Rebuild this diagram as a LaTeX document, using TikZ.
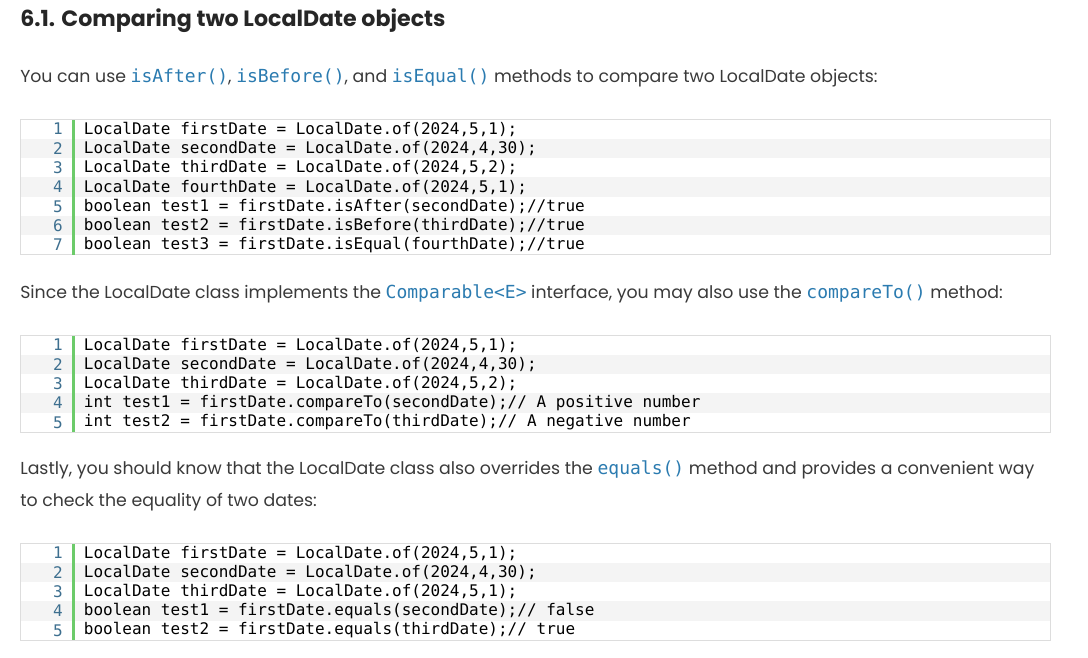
\documentclass[tikz,border=0pt]{standalone}
\usepackage{fontspec}
\setmainfont{Poppins}
\setmonofont{DejaVu Sans Mono}
\definecolor{inlinecode}{HTML}{2B7BB0}
\definecolor{lineno}{HTML}{3D6F8F}
\definecolor{gutter}{HTML}{6CCB6A}
\definecolor{rowshade}{HTML}{F4F4F4}
\definecolor{boxline}{HTML}{DDDDDD}
\definecolor{bodytext}{HTML}{3A3A3A}
\newcommand{\ic}[1]{{\ttfamily\fontsize{13.5pt}{14pt}\selectfont\color{inlinecode}#1}}
\tikzset{
  para/.style={anchor=base west, inner sep=0pt, text=bodytext, font=\fontsize{13pt}{15pt}\selectfont},
  codeline/.style={anchor=west, inner sep=0pt, font=\ttfamily\fontsize{12pt}{13pt}\selectfont},
  numline/.style={anchor=east, inner sep=0pt, text=lineno, font=\ttfamily\fontsize{12pt}{13pt}\selectfont}
}
% one code block: #1 top, #2 number of rows, #3 list of lines
\newcommand{\codebox}[3]{%
  \pgfmathsetmacro{\cbot}{#1+19.3*#2}
  \foreach \r in {2,4,...,#2}{\fill[rowshade] (21,{#1+19.3*(\r-1)}) rectangle (1050,{#1+19.3*\r});}
  \draw[boxline] (20,#1) rectangle (1050,\cbot);
  \fill[gutter] (72,#1) rectangle (75,\cbot);
  \foreach \txt [count=\r] in {#3}{
    \node[numline] (n\r) at (63,{#1+19.3*(\r-0.5)}) {\r};
    \node[codeline, right=15.5pt of n\r.east, anchor=west] (c\r) {\txt};
  }}
\usetikzlibrary{positioning}
\begin{document}
\begin{tikzpicture}[x=0.75pt, y=-0.75pt]
  \useasboundingbox (0,0) rectangle (1088,657);
  \fill[white] (0,0) rectangle (1088,657);

  % heading
  \node[anchor=base west, inner sep=0pt, text=black!85, font=\fontsize{16.6pt}{20pt}\selectfont\bfseries] (title) at (20,26) {6.1. Comparing two LocalDate objects};

  % first paragraph and block
  \node[para] (p1) at (20,82) {You can use \ic{isAfter()}, \ic{isBefore()}, and \ic{isEqual()} methods to compare two LocalDate objects:};
  \codebox{119.5}{7}{{LocalDate firstDate = LocalDate.of(2024,5,1);},
    {LocalDate secondDate = LocalDate.of(2024,4,30);},
    {LocalDate thirdDate = LocalDate.of(2024,5,2);},
    {LocalDate fourthDate = LocalDate.of(2024,5,1);},
    {boolean test1 = firstDate.isAfter(secondDate);//true},
    {boolean test2 = firstDate.isBefore(thirdDate);//true},
    {boolean test3 = firstDate.isEqual(fourthDate);//true}}

  % second paragraph and block
  \node[para] (p2) at (20,298) {Since the LocalDate class implements the \ic{Comparable<E>} interface, you may also use the \ic{compareTo()} method:};
  \codebox{335.5}{5}{{LocalDate firstDate = LocalDate.of(2024,5,1);},
    {LocalDate secondDate = LocalDate.of(2024,4,30);},
    {LocalDate thirdDate = LocalDate.of(2024,5,2);},
    {int test1 = firstDate.compareTo(secondDate);// A positive number},
    {int test2 = firstDate.compareTo(thirdDate);// A negative number}}

  % third paragraph and block
  \node[para] (p3) at (20,474) {Lastly, you should know that the LocalDate class also overrides the \ic{equals()} method and provides a convenient way};
  \node[para] (p4) at (20,506) {to check the equality of two dates:};
  \codebox{543.5}{5}{{LocalDate firstDate = LocalDate.of(2024,5,1);},
    {LocalDate secondDate = LocalDate.of(2024,4,30);},
    {LocalDate thirdDate = LocalDate.of(2024,5,1);},
    {boolean test1 = firstDate.equals(secondDate);// false},
    {boolean test2 = firstDate.equals(thirdDate);// true}}
\end{tikzpicture}
\end{document}
